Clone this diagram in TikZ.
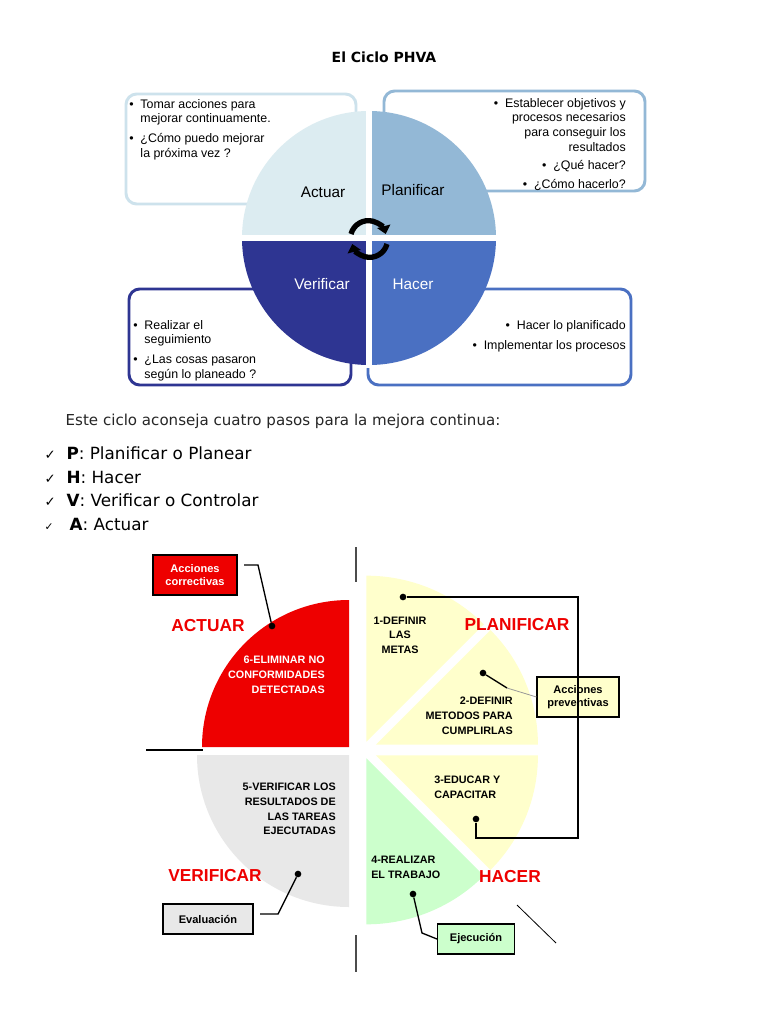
\documentclass[tikz,border=0pt]{standalone}
\usepackage{fontspec}
\setmainfont{Liberation Sans}
\newfontfamily\dvs{DejaVu Sans}
\usetikzlibrary{arrows.meta,calc}
\definecolor{actc}{HTML}{DCECF1}
\definecolor{plac}{HTML}{93B8D6}
\definecolor{verc}{HTML}{2E3592}
\definecolor{hacc}{HTML}{4A70C2}
\definecolor{redc}{HTML}{EE0000}
\definecolor{yelc}{HTML}{FFFFCC}
\definecolor{grec}{HTML}{E8E8E8}
\definecolor{grnc}{HTML}{CCFFCC}
\tikzset{
  infobox/.style={rounded corners=8pt,line width=2.2pt,fill=white},
  btxt/.style={font=\fontsize{9.3}{11}\selectfont,inner sep=0pt},
  qlab/.style={font=\fontsize{11.5}{13}\selectfont,inner sep=0pt},
  big/.style={font=\bfseries\fontsize{13}{15}\selectfont,text=redc,inner sep=0pt},
  stxt/.style={font=\bfseries\fontsize{8.1}{11}\selectfont,inner sep=0pt},
  tag/.style={draw=black,line width=0.8pt,font=\bfseries\fontsize{8.3}{10}\selectfont,align=center,inner sep=2pt},
  dot/.style={circle,fill=black,inner sep=0pt,minimum size=5pt},
  lead/.style={line width=1pt}
}
\begin{document}
\begin{tikzpicture}[x=0.75pt,y=-0.75pt]
\useasboundingbox (0,0) rectangle (768,1024);
\fill[white] (0,0) rectangle (768,1024);
\node[font=\dvs\bfseries\fontsize{10.5}{12}\selectfont] (title) at (384,57) {El Ciclo PHVA};
% ---- top diagram boxes
\draw[infobox,draw=actc!80!plac] (126,94) rectangle (356,204);
\draw[infobox,draw=plac] (384,91) rectangle (645,191);
\draw[infobox,draw=verc] (129,289) rectangle (351,385);
\draw[infobox,draw=hacc] (368,289) rectangle (631,385);
% circle
\coordinate (C) at (369,238);
\fill[plac] (C) -- ++(0:127) arc[start angle=0,end angle=-90,radius=127] -- cycle;
\fill[actc] (C) -- ++(-90:127) arc[start angle=-90,end angle=-180,radius=127] -- cycle;
\fill[verc] (C) -- ++(180:127) arc[start angle=180,end angle=90,radius=127] -- cycle;
\fill[hacc] (C) -- ++(90:127) arc[start angle=90,end angle=0,radius=127] -- cycle;
\draw[white,line width=4pt] (240,238) -- (498,238) (369,108) -- (369,368);
\draw[line width=4pt,-{Triangle[length=6pt,width=10pt]}] (351,234) arc[start angle=-165,end angle=-15,radius=18];
\draw[line width=4pt,-{Triangle[length=6pt,width=10pt]}] (387,244) arc[start angle=15,end angle=165,radius=18];
\node[qlab] (act) at (323,192) {Actuar};
\node[qlab] (pla) at (413,190) {Planificar};
\node[qlab,text=white] (ver) at (322,284) {Verificar};
\node[qlab,text=white] (hac) at (413,284) {Hacer};
\node[btxt,anchor=north west,align=left] (t1) at (129,99) {•\ \ Tomar acciones para\\\phantom{•\ \ }mejorar continuamente.\\[4pt]•\ \ ¿Cómo puedo mejorar\\\phantom{•\ \ }la próxima vez ?};
\node[btxt,anchor=north east,align=right] (t2) at (626,98) {•\ \ Establecer objetivos y\\procesos necesarios\\para conseguir los\\resultados\\[3pt]•\ \ ¿Qué hacer?\\[3pt]•\ \ ¿Cómo hacerlo?};
\node[btxt,anchor=north west,align=left] (t3) at (133,320) {•\ \ Realizar el\\\phantom{•\ \ }seguimiento\\[4pt]•\ \ ¿Las cosas pasaron\\\phantom{•\ \ }según lo planeado ?};
\node[btxt,anchor=north east,align=right] (t4) at (626,320) {•\ \ Hacer lo planificado\\[4pt]•\ \ Implementar los procesos};
% ---- text
\node[font=\dvs\fontsize{11.3}{12}\selectfont,anchor=west,text=black!85] (intro) at (61,421) {Este ciclo aconseja cuatro pasos para la mejora continua:};
\node[font=\dvs\fontsize{12.6}{14}\selectfont,anchor=west] (p) at (40,453) {{\fontsize{10}{10}\selectfont✓}\ \ \textbf{P}: Planificar o Planear};
\node[font=\dvs\fontsize{12.6}{14}\selectfont,anchor=west] (h) at (40,477) {{\fontsize{10}{10}\selectfont✓}\ \ \textbf{H}: Hacer};
\node[font=\dvs\fontsize{12.6}{14}\selectfont,anchor=west] (v) at (40,500) {{\fontsize{10}{10}\selectfont✓}\ \ \textbf{V}: Verificar o Controlar};
\node[font=\dvs\fontsize{12.6}{14}\selectfont,anchor=west] (a) at (40,524) {{\fontsize{8}{10}\selectfont✓}\ \ \ \textbf{A}: Actuar};
% ---- bottom diagram
\fill[redc] (349,747) -- ++(180:147) arc[start angle=180,end angle=270,radius=147] -- cycle;
\fill[grec] (349,755) -- ++(90:152) arc[start angle=90,end angle=180,radius=152] -- cycle;
\coordinate (R) at (363,750);
\fill[yelc] ($(R)+(-67.5:9)$) -- ++(-90:166) arc[start angle=-90,end angle=-45,radius=166] -- cycle;
\fill[yelc] ($(R)+(-22.5:14)$) -- ++(-45:162) arc[start angle=-45,end angle=0,radius=162] -- cycle;
\fill[yelc] ($(R)+(22.5:14)$) -- ++(0:162) arc[start angle=0,end angle=45,radius=162] -- cycle;
\fill[grnc] ($(R)+(67.5:9)$) -- ++(45:166) arc[start angle=45,end angle=90,radius=166] -- cycle;
\draw[black!70,line width=1pt] (356,547) -- (356,582) (356,935) -- (356,972);
\draw[black,line width=0.8pt] (146,750) -- (203,750);
\draw[black,line width=0.6pt] (517,905) -- (556,943);
\node[big] (lA) at (208,626) {ACTUAR};
\node[big] (lP) at (517,625) {PLANIFICAR};
\node[big] (lV) at (215,876) {VERIFICAR};
\node[big] (lH) at (510,877) {HACER};
\node[stxt,align=center] (s1) at (400,635) {1-DEFINIR\\LAS\\METAS};
\node[stxt,align=right,text=white,anchor=north east] (s6) at (325,656) {6-ELIMINAR NO\\CONFORMIDADES\\DETECTADAS};
\node[stxt,align=right,anchor=north east] (s2) at (513,697) {2-DEFINIR\\METODOS PARA\\CUMPLIRLAS};
\node[stxt,align=left,anchor=north west] (s3) at (434,776) {3-EDUCAR Y\\CAPACITAR};
\node[stxt,align=right,anchor=north east] (s5) at (336,783) {5-VERIFICAR LOS\\RESULTADOS DE\\LAS TAREAS\\EJECUTADAS};
\node[stxt,align=left,anchor=north west] (s4) at (371,856) {4-REALIZAR\\EL TRABAJO};
% tags
\node[tag,fill=redc,text=white,minimum width=84pt*0.75,minimum height=40pt*0.75] (ac) at (195,575) {Acciones\\correctivas};
\node[tag,fill=yelc,minimum width=82pt*0.75,minimum height=40pt*0.75] (ap) at (578,697) {Acciones\\preventivas};
\node[tag,fill=grec,minimum width=90pt*0.75,minimum height=30pt*0.75] (ev) at (208,919) {Evaluación};
\node[tag,fill=grnc,minimum width=77pt*0.75,minimum height=30pt*0.75] (ej) at (476,939) {Ejecución};
\node[dot] (d6) at (272,626) {};
\node[dot] (d1) at (403,597) {};
\node[dot] (d2) at (483,673) {};
\node[dot] (d3) at (476,819) {};
\node[dot] (d5) at (298,874) {};
\node[dot] (d4) at (413,894) {};
\coordinate (k1) at (258,565);
\draw[lead] (244,565) -- (k1) -- (d6);
\draw[lead] (d1) -- (578,597) -- (578,838) -- (476,838) -- (d3);
\draw[lead] (d2) -- (507,688);
\draw[black!40,line width=0.6pt] (507,688) -- (ap.west);
\draw[lead] (260,914) -- (278,914) -- (d5);
\draw[lead] (d4) -- (422,933) -- (ej.west);
\end{tikzpicture}
\end{document}
